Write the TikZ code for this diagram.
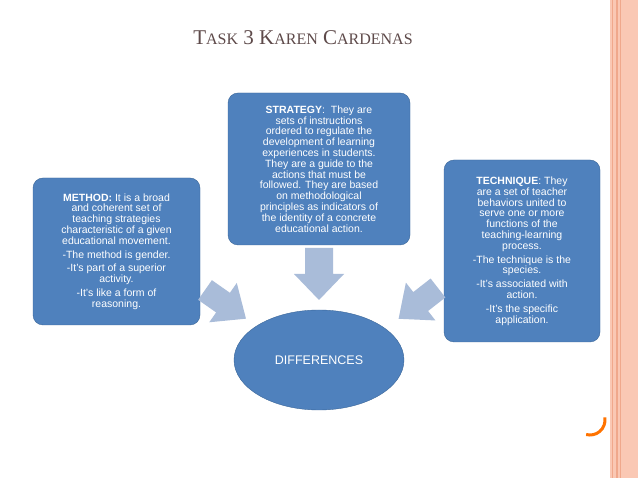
\documentclass[tikz,border=0pt]{standalone}
\usepackage{fontspec}
\setmainfont{Liberation Sans}
\newfontfamily\titlefont{Liberation Serif}
\usetikzlibrary{shapes.geometric}
\definecolor{boxblue}{HTML}{4F81BD}
\definecolor{boxedge}{HTML}{3A6699}
\definecolor{arrowc}{HTML}{A9BCD9}
\definecolor{peach}{HTML}{FAC8B4}
\definecolor{peachd}{HTML}{F0A88C}
\definecolor{titlec}{HTML}{5E4A4A}
\begin{document}
\begin{tikzpicture}[x=1pt,y=-1pt,
  box/.style={draw=boxedge,fill=boxblue,rounded corners=10pt,text=white,align=center,
    font=\fontsize{10.5}{10.8}\selectfont,inner sep=2pt},
  barrow/.style={fill=arrowc,draw=none}]
\useasboundingbox (0,0) rectangle (638,478);
\fill[white] (0,0) rectangle (638,478);
\fill[peach] (610,0) rectangle (638,478);
\draw[peachd,line width=1pt] (612,0) -- (612,478);
\draw[peachd,line width=1.5pt] (617,0) -- (617,478);
\draw[peachd,line width=0.6pt] (620,0) -- (620,478);
\node[text=titlec,font=\titlefont\fontsize{21}{22}\selectfont] (title) at (303,38)
 {T{\fontsize{16}{18}\selectfont ASK} 3 K{\fontsize{16}{18}\selectfont AREN} C{\fontsize{16}{18}\selectfont ARDENAS}};
\node[box,minimum width=167pt,minimum height=147pt] (method) at (116.5,251.5)
 {\textbf{METHOD:} It is a broad\\ and coherent set of\\ teaching strategies\\ characteristic of a given\\ educational movement.\\[3pt]
 -The method is gender.\\[3pt] -It's part of a superior\\ activity.\\[3pt] -It's like a form of\\ reasoning.};
\node[box,minimum width=182pt,minimum height=152pt] (strategy) at (319,169)
 {\textbf{STRATEGY}:\ \ They are\\ sets of instructions\\ ordered to regulate the\\ development of learning\\ experiences in students.\\ They are a guide to the\\ actions that must be\\ followed. They are based\\ on methodological\\ principles as indicators of\\ the identity of a concrete\\ educational action.};
\node[box,minimum width=156pt,minimum height=182pt] (technique) at (522,251)
 {\textbf{TECHNIQUE}: They\\ are a set of teacher\\ behaviors united to\\ serve one or more\\ functions of the\\ teaching-learning\\ process.\\[3pt]
 -The technique is the\\ species.\\[3pt] -It's associated with\\ action.\\[3pt] -It's the specific\\ application.};
\node[ellipse,draw=boxedge,fill=boxblue,minimum width=170pt,minimum height=100pt,text=white,
  font=\fontsize{12.5}{14}\selectfont] (diff) at (319,360) {DIFFERENCES};
\coordinate (a1) at (319,248);
\coordinate (a2) at (205,290);
\coordinate (a3) at (438,288);
\begin{scope}[shift={(a1)}]
 \fill[barrow] (-14,0) -- (14,0) -- (14,26) -- (25,26) -- (0,52) -- (-25,26) -- (-14,26) -- cycle;
\end{scope}
\begin{scope}[shift={(a2)},rotate=55]
 \fill[barrow] (-12,0) -- (12,0) -- (12,22) -- (24,22) -- (0,50) -- (-24,22) -- (-12,22) -- cycle;
\end{scope}
\begin{scope}[shift={(a3)},rotate=-52]
 \fill[barrow] (-12,0) -- (12,0) -- (12,22) -- (24,22) -- (0,50) -- (-24,22) -- (-12,22) -- cycle;
\end{scope}
\draw[orange!90!red,line width=3pt] (604.8,417.4) arc (-10:105:15);
\end{tikzpicture}
\end{document}
